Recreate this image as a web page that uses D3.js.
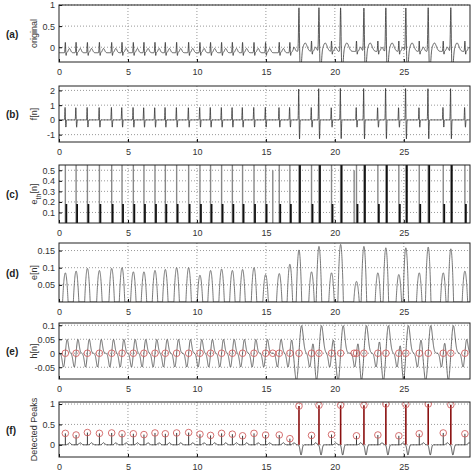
<!DOCTYPE html>
<html><head><meta charset="utf-8">
<script src="https://cdn.jsdelivr.net/npm/d3@7"></script>
<style>body{margin:0;background:#fff}text{font-family:"Liberation Sans",Arial,sans-serif}</style>
</head><body><div id="chart"></div>
<script>
// beat times (s) read from the detected peaks
var beatTimes = [0.46,1.24,2.06,2.93,3.82,4.57,5.39,6.16,6.96,7.71,8.53,9.40,10.22,10.99,11.79,12.57,13.31,14.14,14.98,15.97,16.74,17.40,18.31,18.85,19.76,20.42,21.57,22.11,23.12,23.70,24.64,25.15,26.12,26.77,27.86,28.41,29.43];
// detected peak heights (panel f)
var peakHeights = [0.28,0.24,0.30,0.28,0.29,0.27,0.27,0.25,0.29,0.27,0.29,0.30,0.26,0.23,0.28,0.26,0.22,0.28,0.24,0.24,0.15,0.95,0.23,0.97,0.25,0.97,0.22,0.97,0.24,1.0,0.22,0.99,0.27,1.0,0.29,0.98,0.27];
// envelope peaks (panel d)
var envPeaks = [0.085,0.09,0.098,0.092,0.098,0.1,0.088,0.088,0.092,0.095,0.1,0.1,0.078,0.092,0.096,0.092,0.095,0.1,0.08,0.083,0.11,0.152,0.088,0.162,0.085,0.168,0.06,0.162,0.085,0.158,0.08,0.158,0.085,0.16,0.085,0.155,0.09];
var extraBeats = [15.5, 21.4];   // extra threshold crossings in (c)
var xTicks = [0,5,10,15,20,25];
var xMax = 29.8;

var W = 474, H = 475, L = 59, R = 470;
var svg = d3.select("#chart").append("svg").attr("width", W).attr("height", H);
var x = d3.scaleLinear().domain([0, xMax]).range([L, R]);

function big(i) { return peakHeights[i] > 0.6; }
function g(t, c, w) { var d = (t - c) / w; return Math.exp(-0.5 * d * d); }
var ts = d3.range(0, xMax, 0.008);

function sig(kind) {
  return ts.map(function (t) {
    var v = 0;
    if (kind == "a") v = t < 17 ? -0.13 : -0.1;
    beatTimes.forEach(function (c, i) {
      if (Math.abs(t - c) > 1.2) return;
      var B = big(i);
      if (kind == "a") {
        v += B ? 1.1 * g(t, c, 0.03) - 0.5 * g(t, c + 0.12, 0.06) + 0.2 * g(t, c + 0.45, 0.14)
               : 0.25 * g(t, c, 0.022) - 0.08 * g(t, c + 0.05, 0.02) + 0.1 * g(t, c + 0.3, 0.08);
      } else if (kind == "b") {
        var a = B ? 2.15 : 0.85, m = B ? -1.3 : -0.5;
        v += a * g(t, c - 0.02, 0.018) + m * g(t, c + 0.04, 0.02);
      } else if (kind == "d") {
        var d = Math.abs(t - c) / 0.2;
        if (d < 1) v = Math.max(v, envPeaks[i] * (1 - d * d));
      } else if (kind == "e") {
        var A = B ? 0.1 : 0.05, s = B ? 0.18 : 0.13;
        v += A * (g(t, c + s, s * 0.7) - g(t, c - s, s * 0.7));
      } else if (kind == "f") {
        v += B ? -0.25 * g(t, c + 0.15, 0.07) : 0.05 * g(t, c + 0.3, 0.08);
      }
    });
    return [t, v];
  });
}

function panel(top, bottom, dom, yt, label, ylab, draw, fmt) {
  var y = d3.scaleLinear().domain(dom).range([bottom, top]);
  var p = svg.append("g");
  p.append("defs").append("clipPath").attr("id", "c" + top).append("rect")
    .attr("x", L).attr("y", top).attr("width", R - L).attr("height", bottom - top);
  // grid
  p.selectAll(".gx").data(xTicks.slice(1)).enter().append("line")
    .attr("x1", d => x(d)).attr("x2", d => x(d)).attr("y1", top).attr("y2", bottom)
    .attr("stroke", "#999").attr("stroke-dasharray", "1,2");
  p.selectAll(".gy").data(yt).enter().append("line")
    .attr("x1", L).attr("x2", R).attr("y1", d => y(d)).attr("y2", d => y(d))
    .attr("stroke", "#999").attr("stroke-dasharray", "1,2");
  var inner = p.append("g").attr("clip-path", "url(#c" + top + ")");
  draw(inner, y);
  p.append("g").attr("transform", "translate(0," + bottom + ")")
    .call(d3.axisBottom(x).tickValues(xTicks).tickSize(-3).tickPadding(7).tickFormat(d3.format("d")))
    .call(s => s.select(".domain").remove()).selectAll("text").attr("font-size", 9).attr("fill", "#333");
  p.append("g").attr("transform", "translate(" + L + ",0)")
    .call(d3.axisLeft(y).tickValues(yt).tickSize(-3).tickPadding(4).tickFormat(fmt || (d => String(d))))
    .call(s => s.select(".domain").remove()).selectAll("text").attr("font-size", 9).attr("fill", "#333");
  p.append("rect").attr("x", L).attr("y", top).attr("width", R - L).attr("height", bottom - top)
    .attr("fill", "none").attr("stroke", "#222").attr("stroke-width", 1);
  p.append("text").attr("x", 6).attr("y", (top + bottom) / 2 + 4).attr("font-size", 10)
    .attr("font-weight", "bold").attr("fill", "#222").text(label);
  var yl = p.append("text").attr("transform", "translate(" + (L - 22) + "," + (top + bottom) / 2 + ") rotate(-90)")
    .attr("text-anchor", "middle").attr("font-size", 9).attr("fill", "#333");
  ylab(yl);
}
function line(gr, y, data, col, w) {
  gr.append("path").attr("d", d3.line().x(d => x(d[0])).y(d => y(d[1]))(data))
    .attr("fill", "none").attr("stroke", col).attr("stroke-width", w || 0.8);
}

panel(5, 62, [-0.35, 1], [0, 0.5, 1], "(a)", s => s.text("original"), function (gr, y) {
  line(gr, y, sig("a"), "#333");
});
panel(86, 142, [-1.5, 2.3], [-1, 0, 1, 2], "(b)", s => s.text("f[n]"), function (gr, y) {
  line(gr, y, sig("b"), "#333");
});
panel(165, 223, [0, 0.55], [0.1, 0.2, 0.3, 0.4, 0.5], "(c)", function (s) {
  s.append("tspan").text("e");
  s.append("tspan").attr("baseline-shift", "sub").attr("font-size", 7).text("th");
  s.append("tspan").text("[n]");
}, function (gr, y) {
  gr.selectAll(".hi").data(beatTimes.concat(extraBeats)).enter().append("line")
    .attr("x1", d => x(d)).attr("x2", d => x(d)).attr("y1", y(0)).attr("y2", (d, i) => i < beatTimes.length ? y(0.55) : y(0.5))
    .attr("stroke", "#888").attr("stroke-width", 1.4);
  gr.selectAll(".lo").data(beatTimes).enter().append("line")
    .attr("x1", d => x(d) + 1).attr("x2", d => x(d) + 1).attr("y1", y(0))
    .attr("y2", (d, i) => y(big(i) ? 0.55 : 0.18)).attr("stroke", "#111").attr("stroke-width", 1.8);
}, d3.format(".1f"));
panel(243, 302, [0, 0.172], [0.05, 0.1, 0.15], "(d)", s => s.text("e[n]"), function (gr, y) {
  line(gr, y, sig("d"), "#555");
});
panel(323, 379, [-0.092, 0.108], [-0.05, 0, 0.05, 0.1], "(e)", s => s.text("h[n]"), function (gr, y) {
  line(gr, y, sig("e"), "#444");
  gr.selectAll("circle").data(beatTimes.concat(extraBeats)).enter().append("circle")
    .attr("cx", d => x(d)).attr("cy", y(0)).attr("r", 3.3)
    .attr("fill", "none").attr("stroke", "#d06060").attr("stroke-width", 0.9);
});
panel(402, 457, [-0.3, 1.05], [0, 0.5, 1], "(f)", s => s.text("Detected Peaks"), function (gr, y) {
  line(gr, y, sig("f"), "#222");
  gr.selectAll(".st").data(beatTimes).enter().append("line")
    .attr("x1", d => x(d)).attr("x2", d => x(d)).attr("y1", y(0)).attr("y2", (d, i) => y(peakHeights[i]))
    .attr("stroke", (d, i) => big(i) ? "#8a1010" : "#222").attr("stroke-width", (d, i) => big(i) ? 1.6 : 0.9);
  gr.selectAll("circle").data(beatTimes).enter().append("circle")
    .attr("cx", d => x(d)).attr("cy", (d, i) => y(peakHeights[i])).attr("r", 3.3)
    .attr("fill", "none").attr("stroke", "#d06060").attr("stroke-width", 0.9);
}, d3.format("~g"));
</script></body></html>
